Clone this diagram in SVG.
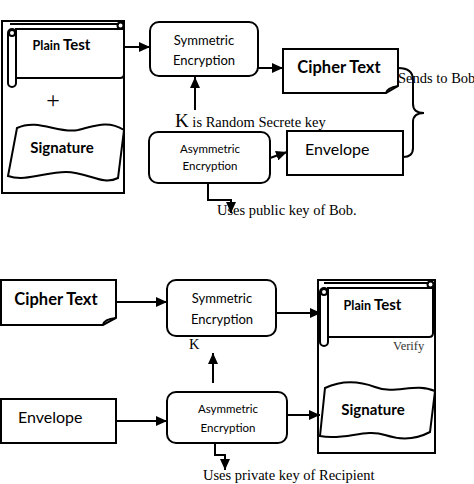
<svg xmlns="http://www.w3.org/2000/svg" width="474" height="484" viewBox="0 0 474 484">
<defs>
<marker id="arr" markerUnits="userSpaceOnUse" markerWidth="11" markerHeight="10" refX="11" refY="5" orient="auto">
<path d="M0,0 L11,5 L0,10 Z" fill="#000"/>
</marker>
</defs>
<style>
.s{fill:#fff;stroke:#000;stroke-width:2}
.n{fill:none;stroke:#000;stroke-width:2}
.c{fill:none;stroke:#000;stroke-width:2;marker-end:url(#arr)}
.sa{font-family:Lato,"Open Sans","Liberation Sans",sans-serif;fill:#000;text-anchor:middle}
.b{font-weight:bold}
.tm{font-family:"Liberation Serif",serif;fill:#000;font-size:14.5px}
</style>
<rect width="474" height="484" fill="#fff"/>

<g id="sender-doc">
<rect class="s" x="2" y="21" width="122" height="172"/>
<path class="n" d="M10,24 H119"/>
<circle class="n" cx="120.5" cy="25.5" r="3" stroke-width="1.5"/>
<path class="s" d="M16,29 H124 V74 Q124,78 120,78 H16 Z"/>
<rect class="s" x="8" y="29" width="8" height="58" rx="4"/>
<circle class="n" cx="12" cy="33" r="3" stroke-width="1.5"/>
<text class="sa b" x="61.5" y="50"><tspan font-size="12.5">Plain </tspan><tspan font-size="15">Test</tspan></text>
<text x="53" y="108" font-family="Liberation Serif,serif" font-size="24" text-anchor="middle">+</text>
<path class="s" d="M17,128 C38,118 58,134 78,130 C95,126 108,120 124,130 L118,178 C102,186 88,172 66,172 C45,172 26,182 8,176 Z"/>
<text class="sa b" x="62" y="153" font-size="15">Signature</text>
</g>

<g id="sym-top">
<rect class="s" x="150" y="22" width="108" height="54" rx="9"/>
<text class="sa" x="204" y="45" font-size="13">Symmetric</text>
<text class="sa" x="204" y="65" font-size="13">Encryption</text>
</g>

<g id="cipher-top">
<path class="s" d="M283,49 H398 V86 L386,93 H283 Z"/>
<path class="n" d="M386,93 Q387,88 398,86" stroke-width="1.5"/>
<text class="sa b" x="339" y="73" font-size="16.5">Cipher Text</text>
</g>

<g id="asym-top">
<rect class="s" x="149" y="132" width="121" height="51" rx="9"/>
<text class="sa" x="210" y="153" font-size="11.5">Asymmetric</text>
<text class="sa" x="210" y="170" font-size="11.5">Encryption</text>
</g>

<g id="envelope-top">
<rect class="s" x="287" y="131" width="116" height="44"/>
<text class="sa" x="305" y="155" font-size="16" text-anchor="start" style="text-anchor:start">Envelope</text>
</g>

<g id="cipher-bottom">
<path class="s" d="M1,280 H116 V318 L103,325 H1 Z"/>
<path class="n" d="M103,325 Q104,319 116,318" stroke-width="1.5"/>
<text class="sa b" x="56" y="305" font-size="16.5">Cipher Text</text>
</g>

<g id="sym-bottom">
<rect class="s" x="167" y="280" width="109" height="56" rx="9"/>
<text class="sa" x="222" y="303" font-size="13">Symmetric</text>
<text class="sa" x="222" y="324" font-size="13">Encryption</text>
</g>

<g id="envelope-bottom">
<rect class="s" x="1" y="399" width="115" height="44"/>
<text class="sa" x="18" y="423" font-size="16" style="text-anchor:start">Envelope</text>
</g>

<g id="asym-bottom">
<rect class="s" x="167" y="392" width="120" height="51" rx="9"/>
<text class="sa" x="228" y="413" font-size="11.5">Asymmetric</text>
<text class="sa" x="228" y="432" font-size="11.5">Encryption</text>
</g>

<g id="receiver-doc">
<rect class="s" x="318" y="280" width="117" height="173"/>
<path class="n" d="M324,283 H429"/>
<circle class="n" cx="430.5" cy="284.5" r="3" stroke-width="1.5"/>
<path class="s" d="M328,288 H433 V333 Q433,337 429,337 H328 Z"/>
<rect class="s" x="320" y="288" width="8" height="58" rx="4"/>
<circle class="n" cx="324" cy="292" r="3" stroke-width="1.5"/>
<text class="sa b" x="372.5" y="310"><tspan font-size="12.5">Plain </tspan><tspan font-size="15">Test</tspan></text>
<text x="393" y="350" font-family="Liberation Serif,serif" font-size="12.5" fill="#333">Verify</text>
<path class="s" d="M325,388 C340,381 356,380 375,387 C395,395 415,382 435,391 L430,432 C415,440 400,440 385,435 C365,428 345,441 320,436 Z"/>
<text class="sa b" x="373" y="415" font-size="15">Signature</text>
</g>

<g id="connectors">
<path class="c" d="M124,47 H150"/>
<path class="c" d="M258,68 H283"/>
<path class="c" d="M195,110 V77"/>
<path class="c" d="M270,158 L287,152"/>
<path class="c" d="M208,183 V200 H231 V213"/>
<path class="n" d="M398,68 C408,68 413,72 413,80 V104 C413,110 417,113 424,113 C417,113 413,116 413,122 V148 C413,154 409,157 403,157"/>
<path class="c" d="M116,302 H167"/>
<path class="c" d="M276,313 H321"/>
<path class="c" d="M213,383 V353"/>
<path class="c" d="M117,421 H167"/>
<path class="c" d="M287,415 H320"/>
<path class="c" d="M215,443 V455 H225 V470"/>
</g>

<g id="labels">
<text class="tm" x="175" y="127"><tspan font-size="19">K</tspan> is Random Secrete key</text>
<text class="tm" x="398" y="83">Sends to Bob</text>
<text class="tm" x="217" y="215" font-size="14">Uses public key of Bob.</text>
<text class="tm" x="189" y="349" font-size="17">K</text>
<text class="tm" x="203" y="480" font-size="14">Uses private key of Recipient</text>
</g>
</svg>
